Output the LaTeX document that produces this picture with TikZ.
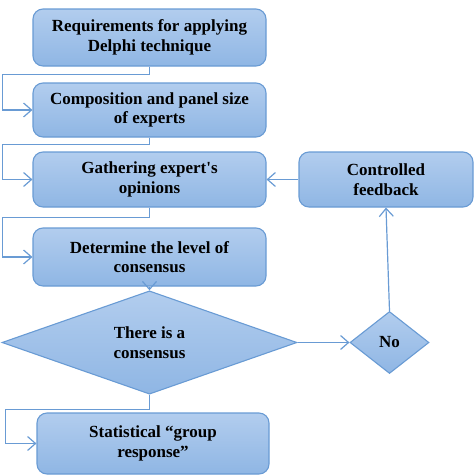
\documentclass[tikz,border=0pt]{standalone}
\usepackage{fontspec}
\setmainfont{Liberation Serif}
\usetikzlibrary{shapes.geometric, arrows.meta}

\definecolor{boxtop}{RGB}{178,205,238}
\definecolor{boxbot}{RGB}{143,182,228}
\definecolor{boxline}{RGB}{105,155,212}

\tikzset{
  stepbox/.style={rectangle, rounded corners=10pt, draw=boxline, line width=1.1pt,
    top color=boxtop, bottom color=boxbot, align=center, inner sep=2pt,
    font=\rmfamily\fontsize{17}{19.5}\selectfont\bfseries},
  choice/.style={diamond, draw=boxline, line width=1.1pt, inner sep=0pt,
    top color=boxtop, bottom color=boxbot, align=center,
    font=\rmfamily\fontsize{17}{19.5}\selectfont\bfseries},
  flow/.style={draw=boxline, line width=1.2pt, -{Straight Barb[length=8pt, width=14pt]}}
}

\begin{document}
\begin{tikzpicture}[x=1pt, y=-1pt]
  \useasboundingbox (0,0) rectangle (474,475);
     \node [stepbox, minimum width=233pt, minimum height=57pt] (req) at (149.5,37.5) {Requirements for applying\\Delphi technique};
     \node [stepbox, minimum width=233pt, minimum height=54pt] (comp) at (149.5,110) {Composition and panel size\\of experts};
     \node [stepbox, minimum width=233pt, minimum height=55pt] (gath) at (149.5,179.5) {Gathering expert\textquotesingle s\\opinions};
     \node [stepbox, minimum width=174pt, minimum height=55pt] (feed) at (386,179.5) {Controlled\\feedback};
     \node [stepbox, minimum width=233pt, minimum height=58pt] (det) at (149.5,257) {Determine the level of\\consensus};
     \node [choice, minimum width=295pt, minimum height=79pt] (cons) at (149.5,342.5) {There is a\\consensus};
     \node [choice, minimum width=79pt, minimum height=62pt] (no) at (389.5,342.5) {No};
     \node [stepbox, minimum width=232pt, minimum height=61pt] (stat) at (153,443.5) {Statistical ``group\\response''};
     \draw[flow] (req.south) -- ++(0,8) -| ([xshift=-30pt]comp.west) -- (comp.west);
     \draw[flow] (comp.south) -- ++(0,7) -| ([xshift=-30pt]gath.west) -- (gath.west);
     \draw[flow] (gath.south) -- ++(0,10) -| ([xshift=-30pt]det.west) -- (det.west);
     \draw[flow] (det.south) -- (cons.north);
     \draw[flow] (cons.east) -- (no.west);
     \draw[flow] (no.north) -- (feed.south);
     \draw[flow] (feed.west) -- (gath.east);
     \draw[flow] (cons.south) -- ++(0,15) -| ([xshift=-31pt]stat.west) -- (stat.west);
  \end{tikzpicture}
\end{document}
